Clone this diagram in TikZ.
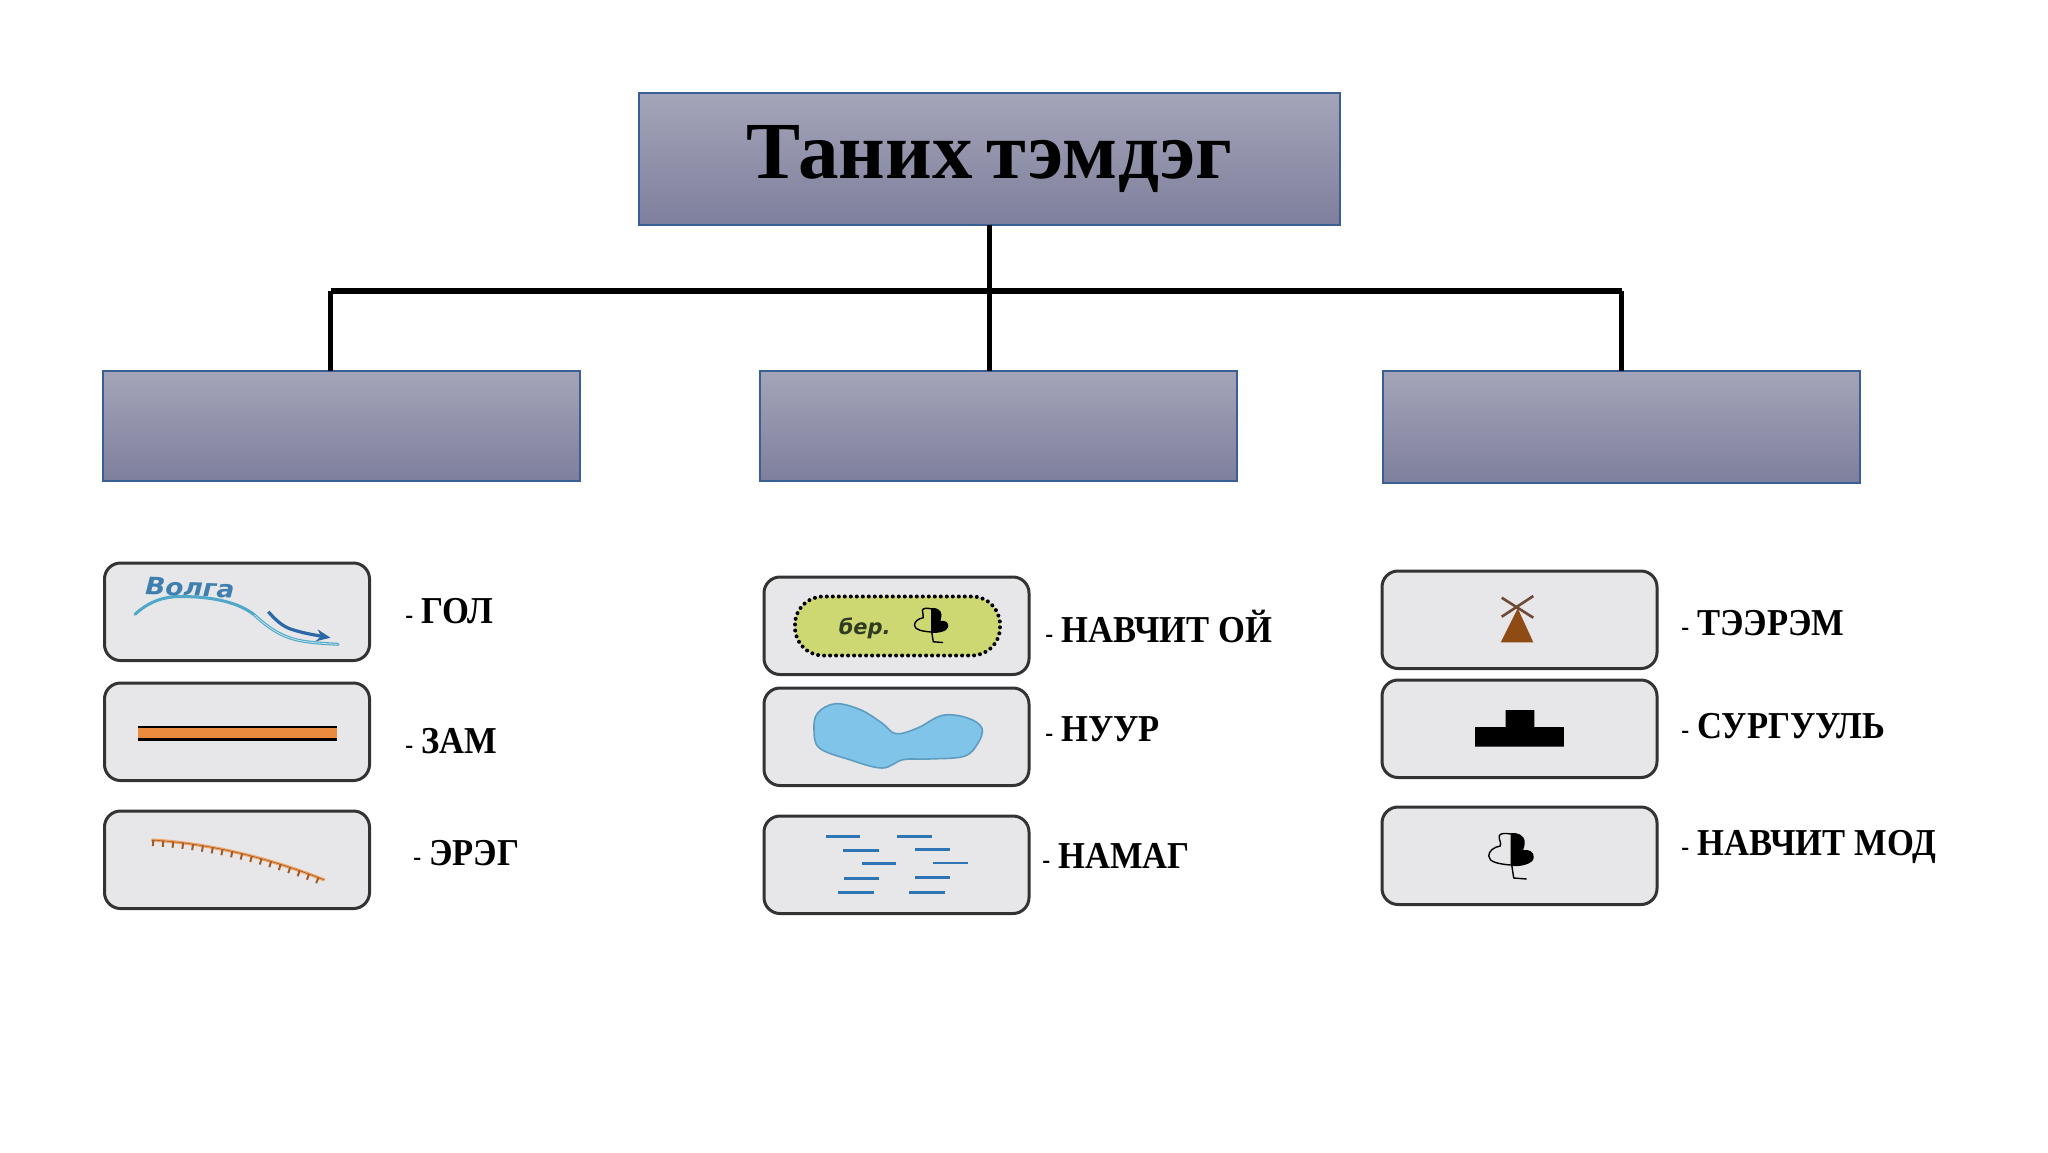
\documentclass[tikz,border=0pt]{standalone}
\usepackage{fontspec}
\setmainfont{Liberation Serif}
\newfontfamily\iconfont{DejaVu Sans}
\newfontfamily\volgafont[FakeStretch=1.1]{DejaVu Sans}
\newfontfamily\lblfont[FakeStretch=0.91,WordSpace=1]{Liberation Serif}
\newfontfamily\titlefont[WordSpace=0.7]{Liberation Serif}
\usetikzlibrary{arrows.meta,decorations.markings}
\definecolor{boxtop}{HTML}{A4A4B9}
\definecolor{boxbot}{HTML}{7E7F9C}
\definecolor{boxedge}{HTML}{3A5F95}
\definecolor{symfill}{HTML}{E7E6E9}
\definecolor{symedge}{HTML}{333333}
\definecolor{river}{HTML}{4FA8C8}
\definecolor{riverpale}{HTML}{C4E2EE}
\definecolor{riverdark}{HTML}{2A68A8}
\definecolor{volga}{HTML}{3F7FAF}
\definecolor{road}{HTML}{EC8A3E}
\definecolor{cliff}{HTML}{F0A565}
\definecolor{cliffdark}{HTML}{A05A28}
\definecolor{pill}{HTML}{CDD873}
\definecolor{pilltext}{HTML}{2F3B22}
\definecolor{lake}{HTML}{80C4E9}
\definecolor{lakeedge}{HTML}{5F9DBF}
\definecolor{marsh}{HTML}{2E75B6}
\definecolor{mill}{HTML}{8F4B14}
\definecolor{millblade}{HTML}{6E4A38}
\tikzset{
  x=0.5pt,y=-0.5pt,
  catbox/.style={draw=boxedge,line width=0.6pt,top color=boxtop,bottom color=boxbot,anchor=north west,inner sep=0pt,outer sep=0pt,minimum width=238.5pt,minimum height=55pt},
  titlebox/.style={catbox,minimum width=350.5pt,minimum height=66pt,anchor=center,font=\titlefont\fontsize{40.5}{40.5}\selectfont\bfseries},
  symbox/.style={draw=symedge,line width=1.5pt,fill=symfill,rounded corners=8pt,anchor=north west,inner sep=0pt,outer sep=0pt,minimum width=132.5pt,minimum height=48.75pt},
  conn/.style={line width=2.8pt,black},
  lbl/.style={anchor=west,inner sep=0pt,font=\lblfont\fontsize{19}{19}\selectfont\bfseries},
  marshline/.style={draw=marsh,line width=1.4pt},
}
\newcommand{\dashlbl}[1]{{\fontsize{13}{13}\selectfont -}\hspace{4pt}#1}
\newcommand{\leaftree}{%
  \draw[black,line width=0.7pt] (0,1) .. controls (-5,0) and (-11,0) .. (-11.5,3) .. controls (-12,7) and (-9,10) .. (-10.5,13) .. controls (-17,14) and (-22,18) .. (-22,23) .. controls (-22,29) and (-12,31) .. (0,32);
  \fill[black] (0,0) .. controls (6,-1) and (14,2) .. (14,9) .. controls (14,13) and (13,15) .. (12.5,17) .. controls (18,16) and (24,19) .. (23,25) .. controls (22,31) and (10,34) .. (0,33) -- cycle;
  \draw[black,line width=0.7pt] (1,32) -- (3,45) -- (16,46);
}
\begin{document}
\begin{tikzpicture}
\useasboundingbox (0,0) rectangle (2048,1152);
\fill[white] (0,0) rectangle (2048,1152);

% title and category boxes
\node[titlebox] (title) at (989.5,159) {\raisebox{-1.2pt}{Таних тэмдэг}};
\node[catbox] (cat1) at (103,371) {};
\node[catbox] (cat2) at (760,371) {};
\node[catbox,minimum height=56pt] (cat3) at (1383,371) {};

% connectors
\coordinate (jn) at (title.south |- 0,291);
\coordinate (jl) at (330.5,291);
\coordinate (jr) at (cat3.north |- 0,291);
\draw[conn] (title.south) -- (title.south |- cat2.north);
\draw[conn] (jl) -- (jn) -- (jr);
\draw[conn] (jl) -- (jl |- cat1.north);
\draw[conn] (jr) -- (cat3.north);

% symbol boxes
\node[symbox] (s11) at (104.5,563) {};
\node[symbox] (s12) at (104.5,683) {};
\node[symbox] (s13) at (104.5,811) {};
\node[symbox] (s21) at (764,577) {};
\node[symbox] (s22) at (764,688) {};
\node[symbox] (s23) at (764,816) {};
\node[symbox,minimum width=137.5pt] (s31) at (1382,571) {};
\node[symbox,minimum width=137.5pt] (s32) at (1382,680) {};
\node[symbox,minimum width=137.5pt] (s33) at (1382,807) {};

% river
\begin{scope}[shift={(104.5,563)}]
  \draw[river,line width=1.5pt,line cap=round] (30.5,51.3) .. controls (45,38) and (60,33.5) .. (76,33.5) .. controls (110,33.5) and (135,40) .. (150,52) .. controls (165,66) and (178,74) .. (195,77.5) .. controls (208,80) and (220,80.5) .. (233.5,81.3);
  \draw[riverpale,line width=0.4pt] (150,52) .. controls (165,66) and (178,74) .. (195,77.5) .. controls (208,80) and (220,80.5) .. (233.5,81.3);
  \draw[riverdark,line width=1.6pt,-{Stealth[length=7pt,width=6pt]}] (163.8,48.7) .. controls (172,58) and (178,63) .. (186,66) .. controls (198,70) and (210,72) .. (226,74.7);
  \node[font=\volgafont\bfseries\itshape\fontsize{12}{12}\selectfont,text=volga,inner sep=0pt,rotate=-2] (volgatxt) at (85.5,24.5) {Волга};
\end{scope}

% road
\begin{scope}[shift={(104.5,683)}]
  \fill[road] (33,43) rectangle (232,57);
  \draw[black,line width=1.2pt] (33,44) -- (232,44) (33,56.5) -- (232,56.5);
\end{scope}

% cliff
\begin{scope}[shift={(104.5,811)}]
  \draw[cliff,line width=1.6pt] (47,29) .. controls (100,32) and (160,45) .. (220,69);
  \draw[cliffdark,line width=0.3pt] (47,29) .. controls (100,32) and (160,45) .. (220,69);
  \path[postaction={decorate,decoration={markings,mark=between positions 0.01 and 0.99 step 5pt with {\draw[cliffdark,line width=1pt] (0,0) -- (0,-3pt);}}}] (47,29) .. controls (100,32) and (160,45) .. (220,69);
\end{scope}

% deciduous forest
\begin{scope}[shift={(764,577)}]
  \draw[black,line width=2pt,dash pattern=on 0pt off 3pt,line cap=round,fill=pill,rounded corners=14pt] (31,19.5) rectangle (236,78.5);
  \node[font=\iconfont\bfseries\itshape\fontsize{10.5}{10.5}\selectfont,text=pilltext,inner sep=0pt] (bertxt) at (100.7,51) {бер.};
  \begin{scope}[shift={(167,31)},scale=0.75]
    \leaftree
  \end{scope}
\end{scope}

% lake
\begin{scope}[shift={(764,688)}]
  \draw[lakeedge,fill=lake,line width=0.8pt] plot[smooth cycle,tension=.6] coordinates {(50,41.7) (53.6,25) (71.4,15.7) (96.4,21.7) (117.9,35) (132,45.7) (153.6,40) (178.6,27.3) (203.6,30) (217.9,40) (214,55) (200,68.3) (164,71) (139,71.7) (118,80) (85.7,71.7) (55.4,60)};
\end{scope}

% marsh
\begin{scope}[shift={(764,816)}]
  \draw[marshline] (61.8,20.7) -- (96.4,20.7);
  \draw[marshline] (79.3,34.3) -- (115,34.3);
  \draw[marshline] (97.5,47.7) -- (132,47.7);
  \draw[marshline] (79.6,62.3) -- (115,62.3);
  \draw[marshline] (74.3,76.7) -- (110,76.7);
  \draw[marshline] (132.9,20.3) -- (167.9,20.3);
  \draw[marshline] (150.7,33.7) -- (186.4,33.7);
  \draw[marshline] (168.6,47) -- (203.6,47);
  \draw[marshline] (150.7,61.7) -- (186.4,61.7);
  \draw[marshline] (145.4,76.3) -- (181,76.3);
\end{scope}

% windmill
\begin{scope}[shift={(1382,571)}]
  \fill[mill] (118.7,71.3) -- (151.3,71.3) -- (135.7,37.3) -- cycle;
  \draw[millblade,line width=1.3pt] (119.7,26.7) -- (151.3,46.7) (151.3,25) -- (119.7,45.7);
\end{scope}

% school
\begin{scope}[shift={(1382,680)}]
  \fill[black] (93,47) -- (123.6,47) -- (123.6,30) -- (152.3,30) -- (152.3,47) -- (181.8,47) -- (181.8,66.7) -- (93,66.7) -- cycle;
\end{scope}

% tree
\begin{scope}[shift={(1382,807)}]
  \begin{scope}[shift={(128.7,26)}]
    \leaftree
  \end{scope}
\end{scope}

% labels
\node[lbl] (l11) at (405,611) {\dashlbl{ГОЛ}};
\node[lbl] (l12) at (405,741) {\dashlbl{ЗАМ}};
\node[lbl] (l13) at (413,853) {\dashlbl{ЭРЭГ}};
\node[lbl] (l21) at (1045,626) {\dashlbl{НАВЧИТ ОЙ}};
\node[lbl] (l22) at (1045,729) {\dashlbl{НУУР}};
\node[lbl] (l23) at (1042,856) {\dashlbl{НАМАГ}};
\node[lbl] (l31) at (1681,623) {\dashlbl{ТЭЭРЭМ}};
\node[lbl] (l32) at (1681,726) {\dashlbl{СУРГУУЛЬ}};
\node[lbl] (l33) at (1681,847) {\dashlbl{НАВЧИТ МОД}};
\end{tikzpicture}
\end{document}
